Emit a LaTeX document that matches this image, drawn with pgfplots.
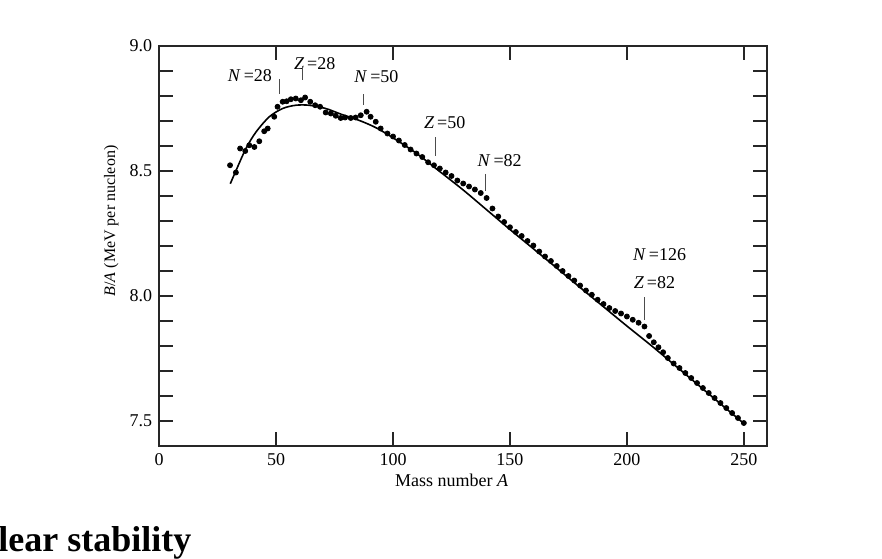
\documentclass[border=0pt]{standalone}
\usepackage{fontspec}
\setmainfont{Liberation Serif}
\usepackage{pgfplots}
\pgfplotsset{compat=1.18}

% measured binding energies (dots)
\pgfplotstableread{
A B
30.3 8.523
32.8 8.494
34.6 8.590
36.8 8.580
38.5 8.603
40.7 8.596
42.8 8.619
44.9 8.659
46.4 8.670
49.2 8.717
50.6 8.757
52.8 8.777
54.5 8.779
56.3 8.787
58.4 8.790
60.6 8.783
62.4 8.794
64.6 8.777
66.7 8.763
68.8 8.757
71.2 8.734
73.4 8.730
75.5 8.721
77.6 8.712
79.5 8.714
81.9 8.712
84.0 8.714
86.2 8.723
88.7 8.737
90.4 8.717
92.6 8.697
94.7 8.670
97.6 8.650
100 8.638
102.5 8.622
105 8.604
107.5 8.586
110 8.570
112.5 8.556
115 8.535
117.5 8.523
120 8.510
122.5 8.494
125 8.480
127.5 8.462
130 8.450
132.5 8.438
135 8.426
137.5 8.412
140 8.392
142.5 8.350
145 8.318
147.5 8.296
150 8.275
152.5 8.256
155 8.240
157.5 8.220
160 8.202
162.5 8.178
165 8.158
167.5 8.140
170 8.120
172.5 8.100
175 8.080
177.5 8.062
180 8.042
182.5 8.022
185 8.005
187.5 7.985
190 7.968
192.5 7.952
195 7.940
197.5 7.930
200 7.918
202.5 7.905
205 7.893
207.5 7.878
209.5 7.840
211.5 7.815
213.5 7.795
215.5 7.775
217.5 7.752
220 7.730
222.5 7.712
225 7.692
227.5 7.672
230 7.652
232.5 7.632
235 7.612
237.5 7.592
240 7.572
242.5 7.552
245 7.532
247.5 7.512
250 7.492
}\measured

% smooth fitted curve
\pgfplotstableread{
A B
30.4 8.449
32.9 8.503
37.1 8.590
41.4 8.656
47.1 8.717
52.8 8.750
58.4 8.763
64.1 8.763
71.2 8.750
78.4 8.725
86.2 8.700
94.7 8.663
108.9 8.578
119 8.505
130 8.424
140 8.345
150 8.266
160 8.189
170 8.112
180 8.034
190 7.957
200 7.880
210 7.805
220 7.727
230 7.648
240 7.569
250 7.490
}\fitted

\begin{document}
\begin{tikzpicture}
\useasboundingbox (0,0) rectangle (441pt,279pt);
\begin{axis}[
  at={(79.6pt,56pt)}, anchor=south west,
  scale only axis, width=304pt, height=200pt,
  xmin=0, xmax=260, ymin=7.4, ymax=9.0,
  xtick={0,50,...,250},
  ytick={7.5,8.0,8.5,9.0},
  minor ytick={7.6,7.7,7.8,7.9,8.1,8.2,8.3,8.4,8.6,8.7,8.8,8.9},
  major tick length=7pt, minor tick length=7pt,
  tick style={line width=0.9pt, black!85},
  axis line style={line width=1pt, black!85},
  yticklabel style={/pgf/number format/fixed, /pgf/number format/fixed zerofill,
    /pgf/number format/precision=1},
  /pgf/number format/assume math mode=true,
  ticklabel style={font=\fontsize{9}{10}\selectfont},
  xlabel={Mass number \textit{A}},
  ylabel={\textit{B}/\textit{A} (MeV per nucleon)},
  xlabel style={font=\fontsize{9}{10}\selectfont, at={(axis description cs:0.481,-0.085)}, anchor=center},
  ylabel style={font=\fontsize{8}{9}\selectfont, at={(axis description cs:-0.079,0.5625)}, anchor=center},
  clip=false,
]
\addplot[black, line width=0.8pt, smooth, tension=0.5] table[x=A, y=B] {\fitted};
\addplot[only marks, mark=*, mark size=1.25pt, black] table[x=A, y=B] {\measured};

\begin{scope}[font=\fontsize{9}{10}\selectfont]
\node at (axis cs:38.8,8.88) {\textit{N}\,=28};
\node at (axis cs:66.5,8.931) {\textit{Z}\,=28};
\node at (axis cs:92.9,8.877) {\textit{N}\,=50};
\node at (axis cs:122.1,8.693) {\textit{Z}\,=50};
\node at (axis cs:145.6,8.54) {\textit{N}\,=82};
\node at (axis cs:214,8.167) {\textit{N}\,=126};
\node at (axis cs:211.8,8.053) {\textit{Z}\,=82};
\end{scope}
\draw[black!70, line width=0.4pt] (axis cs:51.3,8.866) -- (axis cs:51.3,8.807);
\draw[black!70, line width=0.4pt] (axis cs:61.3,8.92) -- (axis cs:61.3,8.863);
\draw[black!70, line width=0.4pt] (axis cs:87.2,8.807) -- (axis cs:87.2,8.764);
\draw[black!70, line width=0.4pt] (axis cs:118.1,8.636) -- (axis cs:118.1,8.56);
\draw[black!70, line width=0.4pt] (axis cs:139.6,8.489) -- (axis cs:139.6,8.42);
\draw[black!70, line width=0.4pt] (axis cs:207.3,7.996) -- (axis cs:207.3,7.903);
\end{axis}
\node[anchor=base east, inner sep=0pt, font=\fontsize{18}{20}\selectfont\bfseries] at (95.9pt,3.2pt) {Nuclear stability};
\end{tikzpicture}
\end{document}
